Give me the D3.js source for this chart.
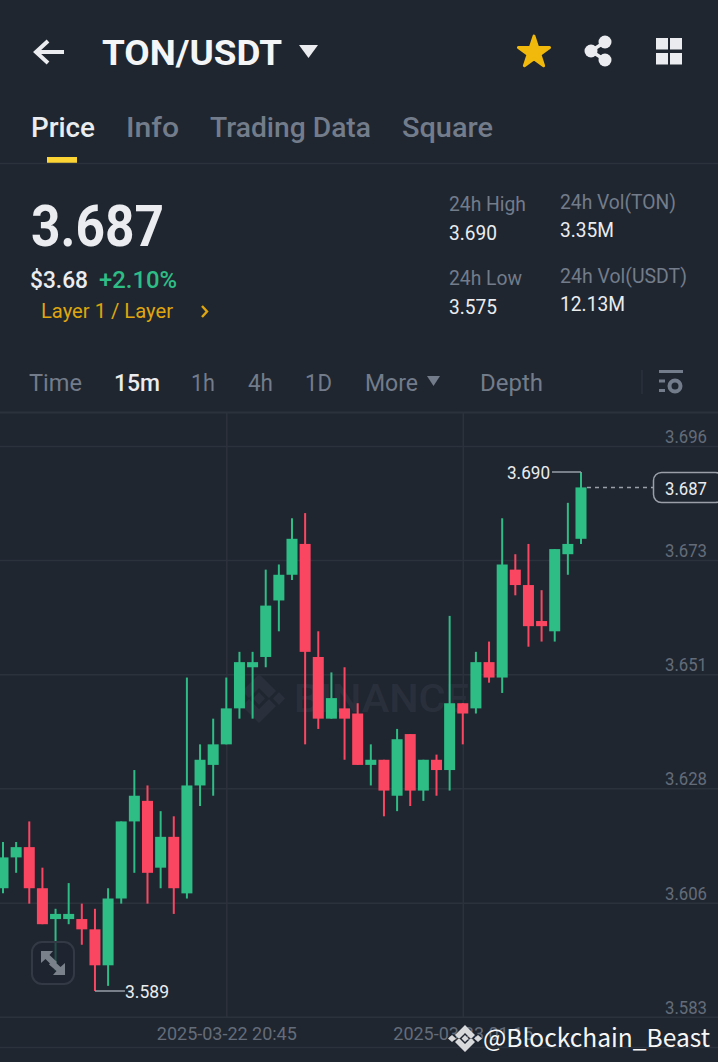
<!DOCTYPE html>
<html><head><meta charset="utf-8">
<script src="https://cdn.jsdelivr.net/npm/d3@7"></script>
<style>html,body{margin:0;padding:0;background:#1f2630;overflow:hidden}svg{display:block}</style>
</head><body><svg id="c" width="718" height="1062"></svg>
<script>
const opens =[3.609,3.615,3.617,3.609,3.603,3.603,3.603,3.601,3.594,3.607,3.622,3.626,3.613,3.619,3.608,3.629,3.633,3.637,3.644,3.652,3.654,3.665,3.670,3.676,3.654,3.642,3.644,3.643,3.633,3.634,3.627,3.639,3.628,3.634,3.632,3.645,3.644,3.653,3.650,3.671,3.668,3.661,3.659,3.674,3.677];
const highs =[3.618,3.618,3.622,3.613,3.605,3.610,3.606,3.605,3.609,3.622,3.632,3.629,3.624,3.623,3.650,3.637,3.642,3.650,3.655,3.655,3.671,3.672,3.681,3.682,3.659,3.651,3.652,3.645,3.637,3.634,3.640,3.639,3.634,3.635,3.662,3.645,3.655,3.657,3.681,3.674,3.676,3.667,3.675,3.684,3.690];
const lows  =[3.608,3.612,3.606,3.602,3.593,3.602,3.598,3.589,3.590,3.606,3.612,3.606,3.609,3.604,3.607,3.625,3.627,3.637,3.642,3.642,3.652,3.659,3.669,3.637,3.640,3.642,3.634,3.633,3.629,3.623,3.624,3.625,3.626,3.627,3.628,3.637,3.643,3.649,3.647,3.666,3.656,3.657,3.657,3.670,3.676];
const closes=[3.615,3.617,3.609,3.602,3.604,3.604,3.601,3.594,3.607,3.622,3.627,3.612,3.619,3.609,3.629,3.634,3.637,3.644,3.653,3.653,3.664,3.670,3.677,3.655,3.642,3.646,3.642,3.633,3.634,3.628,3.638,3.628,3.634,3.632,3.645,3.643,3.653,3.650,3.672,3.668,3.660,3.660,3.675,3.676,3.687];
const gridPrices=[3.69506,3.67288,3.65064,3.62845,3.60619,3.58401];
const priceLabels=["3.696","3.673","3.651","3.628","3.606","3.583"];
const timeIdx=[17,35];
const timeLabels=["2025-03-22 20:45","2025-03-23 01:15"];
const lowLabel={i:7,p:3.589,t:"3.589"}, highLabel={i:44,p:3.690,t:"3.690"}, lastPrice={i:44,p:3.687,t:"3.687"};

const BG="#1f2630",GRID="#2c323c",GREEN="#2ebd85",RED="#fb4661",WHITE="#eaecef",GREY="#737c8a",AX="#646c79",YEL="#f0b90b";
const FONT="Roboto, sans-serif";
const svg=d3.select("#c");
svg.append("rect").attr("width",718).attr("height",1062).attr("fill",BG);
const x=d3.scaleLinear().domain([0,44]).range([3,581]);
const y=d3.scaleLinear().domain([3.589,3.690]).range([991,472]);

function T(s,xx,yy,size,col,w,len,weight,anchor){
  const e=svg.append("text").text(s).attr("x",xx).attr("y",yy).attr("font-family",FONT).attr("font-size",size).attr("fill",col).attr("font-weight",weight||400).attr("text-anchor",anchor||"start");
  if(len) e.attr("textLength",len).attr("lengthAdjust","spacingAndGlyphs");
  return e;
}
function L(a,b,c,d,col,w){return svg.append("line").attr("x1",a).attr("y1",b).attr("x2",c).attr("y2",d).attr("stroke",col).attr("stroke-width",w||1.5);}

// header
svg.append("path").attr("d","M64,52 H37 M48,41 L36,52 L48,63").attr("fill","none").attr("stroke",WHITE).attr("stroke-width",4);
T("TON/USDT",102,65,35,"#f4f5f6",0,180,700);
svg.append("path").attr("d","M299,45 H318 L308.5,58 Z").attr("fill",WHITE);
svg.append("path").attr("d",d3.symbol(d3.symbolStar,300)()).attr("transform","translate(534,52.5)").attr("fill",YEL).attr("stroke",YEL).attr("stroke-width",3).attr("stroke-linejoin","round");
svg.append("path").attr("d","M605,42 L591,51 L605,60").attr("fill","none").attr("stroke",WHITE).attr("stroke-width",3.5);
[[605,42,6.5],[591,51,6.5],[605,60,6.5]].forEach(c=>svg.append("circle").attr("cx",c[0]).attr("cy",c[1]).attr("r",c[2]).attr("fill",WHITE));
[[656,38],[670,38],[656,53],[670,53]].forEach(c=>svg.append("rect").attr("x",c[0]).attr("y",c[1]).attr("width",12).attr("height",11.5).attr("fill",WHITE));
// tabs
T("Price",31,137,28,WHITE,0,64,500);
T("Info",126,137,28,GREY,0,53,500);
T("Trading Data",210,137,28,GREY,0,161,500);
T("Square",402,137,28,GREY,0,91,500);
svg.append("rect").attr("x",47).attr("y",157).attr("width",30).attr("height",6).attr("fill","#fcd535");
L(0,163.5,718,163.5,GRID,1.5);
// price block
T("3.687",31,246,57,WHITE,0,133,700);
T("$3.68",30,288,24,WHITE,0,58,500);
T("+2.10%",99,288,24,GREEN,0,78,500);
T("Layer 1 / Layer",41,318,20,"#dfa60f",0,132,400);
svg.append("path").attr("d","M202,306 L207,311.5 L202,317").attr("fill","none").attr("stroke","#dfa60f").attr("stroke-width",2.4);
T("24h High",449,211,20.5,GREY,0,77);
T("3.690",449,240,20,WHITE,0,48);
T("24h Vol(TON)",560,209,20.5,GREY,0,116);
T("3.35M",560,237,20,WHITE,0,54);
T("24h Low",449,285,20.5,GREY,0,73);
T("3.575",449,314,20,WHITE,0,48);
T("24h Vol(USDT)",560,283,20.5,GREY,0,127);
T("12.13M",560,311,20,WHITE,0,65);
// interval row
T("Time",29,391,24,GREY,0,53);
T("15m",114,391,24,WHITE,0,46,500);
T("1h",191,391,24,GREY,0,24);
T("4h",248,391,24,GREY,0,25);
T("1D",305,391,24,GREY,0,27);
T("More",365,391,24,GREY,0,53);
svg.append("path").attr("d","M427,376 H440 L433.5,386 Z").attr("fill",GREY);
T("Depth",480,391,24,GREY,0,63);
L(642,370,642,394,GRID,1.5);
svg.append("path").attr("d","M659,371.5 H683 M659,381 H665 M659,390.5 H665").attr("stroke",GREY).attr("stroke-width",3).attr("fill","none");
svg.append("circle").attr("cx",675).attr("cy",386).attr("r",5.5).attr("fill","none").attr("stroke",GREY).attr("stroke-width",4);
L(0,412.5,718,412.5,GRID,2);

// chart gridlines + axes
const yAxis=d3.axisRight(y).tickValues(gridPrices).tickSize(718).tickFormat((d,i)=>priceLabels[i]);
const gy=svg.append("g").call(yAxis);
gy.select(".domain").remove();
gy.selectAll(".tick line").attr("stroke",GRID).attr("stroke-width",1.5);
gy.selectAll(".tick text").attr("x",707).attr("dy",-3.5).attr("text-anchor","end").attr("font-family",FONT).attr("font-size",18).attr("fill",AX).attr("textLength",42).attr("lengthAdjust","spacingAndGlyphs");

const xAxis=d3.axisBottom(x).tickValues(timeIdx).tickSize(-604).tickFormat((d,i)=>timeLabels[i]);
const gx=svg.append("g").attr("transform","translate(0,1017)").call(xAxis);
gx.select(".domain").remove();
gx.selectAll(".tick line").attr("stroke",GRID).attr("stroke-width",1.5);
gx.selectAll(".tick text").attr("y",23).attr("dy",0).attr("font-family",FONT).attr("font-size",18).attr("fill",AX).attr("textLength",140).attr("lengthAdjust","spacingAndGlyphs");
L(0,1047.5,718,1047.5,GRID,1.5);

// BINANCE watermark
const wm=svg.append("g").attr("fill","#2a303b");
wm.append("path").attr("d","M259,674 L276,691 L269,698 L259,688 L249,698 L242,691 Z M259,723 L276,706 L269,699 L259,709 L249,699 L242,706 Z M259,692 L265,698.5 L259,705 L253,698.5 Z M279,692 L285,698.5 L279,705 L273,698.5 Z");
T("BINANCE",294,712,39,"#2a303b",0,175,500);

// candles
const idx=d3.range(opens.length);
const col=i=>closes[i]>=opens[i]?GREEN:RED;
const bodyW=11;
svg.append("g").selectAll("line").data(idx).join("line")
  .attr("x1",i=>x(i)).attr("x2",i=>x(i)).attr("y1",i=>y(highs[i])).attr("y2",i=>y(lows[i]))
  .attr("stroke",col).attr("stroke-width",2);
svg.append("g").selectAll("rect").data(idx).join("rect")
  .attr("x",i=>x(i)-bodyW/2).attr("width",bodyW)
  .attr("y",i=>y(Math.max(opens[i],closes[i])))
  .attr("height",i=>Math.max(2,Math.abs(y(opens[i])-y(closes[i]))))
  .attr("fill",col);

// high / low / last annotations
L(x(lowLabel.i),y(lowLabel.p),x(lowLabel.i)+30,y(lowLabel.p),"#9a9fa8",1.5);
T(lowLabel.t,125,y(lowLabel.p)+7,18.5,WHITE,0,44);
L(x(highLabel.i)-29,y(highLabel.p),x(highLabel.i),y(highLabel.p),"#9a9fa8",1.5);
T(highLabel.t,507,y(highLabel.p)+7,18.5,WHITE,0,43);
L(x(lastPrice.i)+6,y(lastPrice.p),653,y(lastPrice.p),"#9a9fa8",1.5).attr("stroke-dasharray","4 4");
svg.append("rect").attr("x",653.5).attr("y",472.5).attr("width",70).attr("height",30).attr("rx",8).attr("fill",BG).attr("stroke","#9a9fa8").attr("stroke-width",1.5);
T(lastPrice.t,665,y(lastPrice.p)+8,19,WHITE,0,42);

// expand button
svg.append("rect").attr("x",32).attr("y",942).attr("width",42).attr("height",42).attr("rx",10).attr("fill",BG).attr("fill-opacity",0.72).attr("stroke","#333a45").attr("stroke-width",2);
svg.append("path").attr("d","M41,951 H53 L49.5,955 L57,962 L53,966.5 L45.5,959 L41,963 Z M65,975 H53 L56.5,971 L49,964.5 L53,960 L60.5,967 L65,963 Z").attr("fill","#7b818b");

// author mark
const am=svg.append("g").attr("fill","#d8d9db");
am.append("path").attr("d","M465,1025 L475,1035 L471,1039 L465,1033 L459,1039 L455,1035 Z M465,1052 L475,1042 L471,1038 L465,1044 L459,1038 L455,1042 Z M452,1035 L456,1038.5 L452,1042 L448,1038.5 Z M478,1035 L482,1038.5 L478,1042 L474,1038.5 Z M465,1035 L468.5,1038.5 L465,1042 L461.5,1038.5 Z");
svg.append("text").text("@Blockchain_Beast").attr("x",483).attr("y",1047).attr("font-family","'Noto Sans CJK SC','Noto Sans',sans-serif").attr("font-size",24.5).attr("fill","#f6f6f6").attr("textLength",227).attr("lengthAdjust","spacingAndGlyphs");
</script></body></html>
